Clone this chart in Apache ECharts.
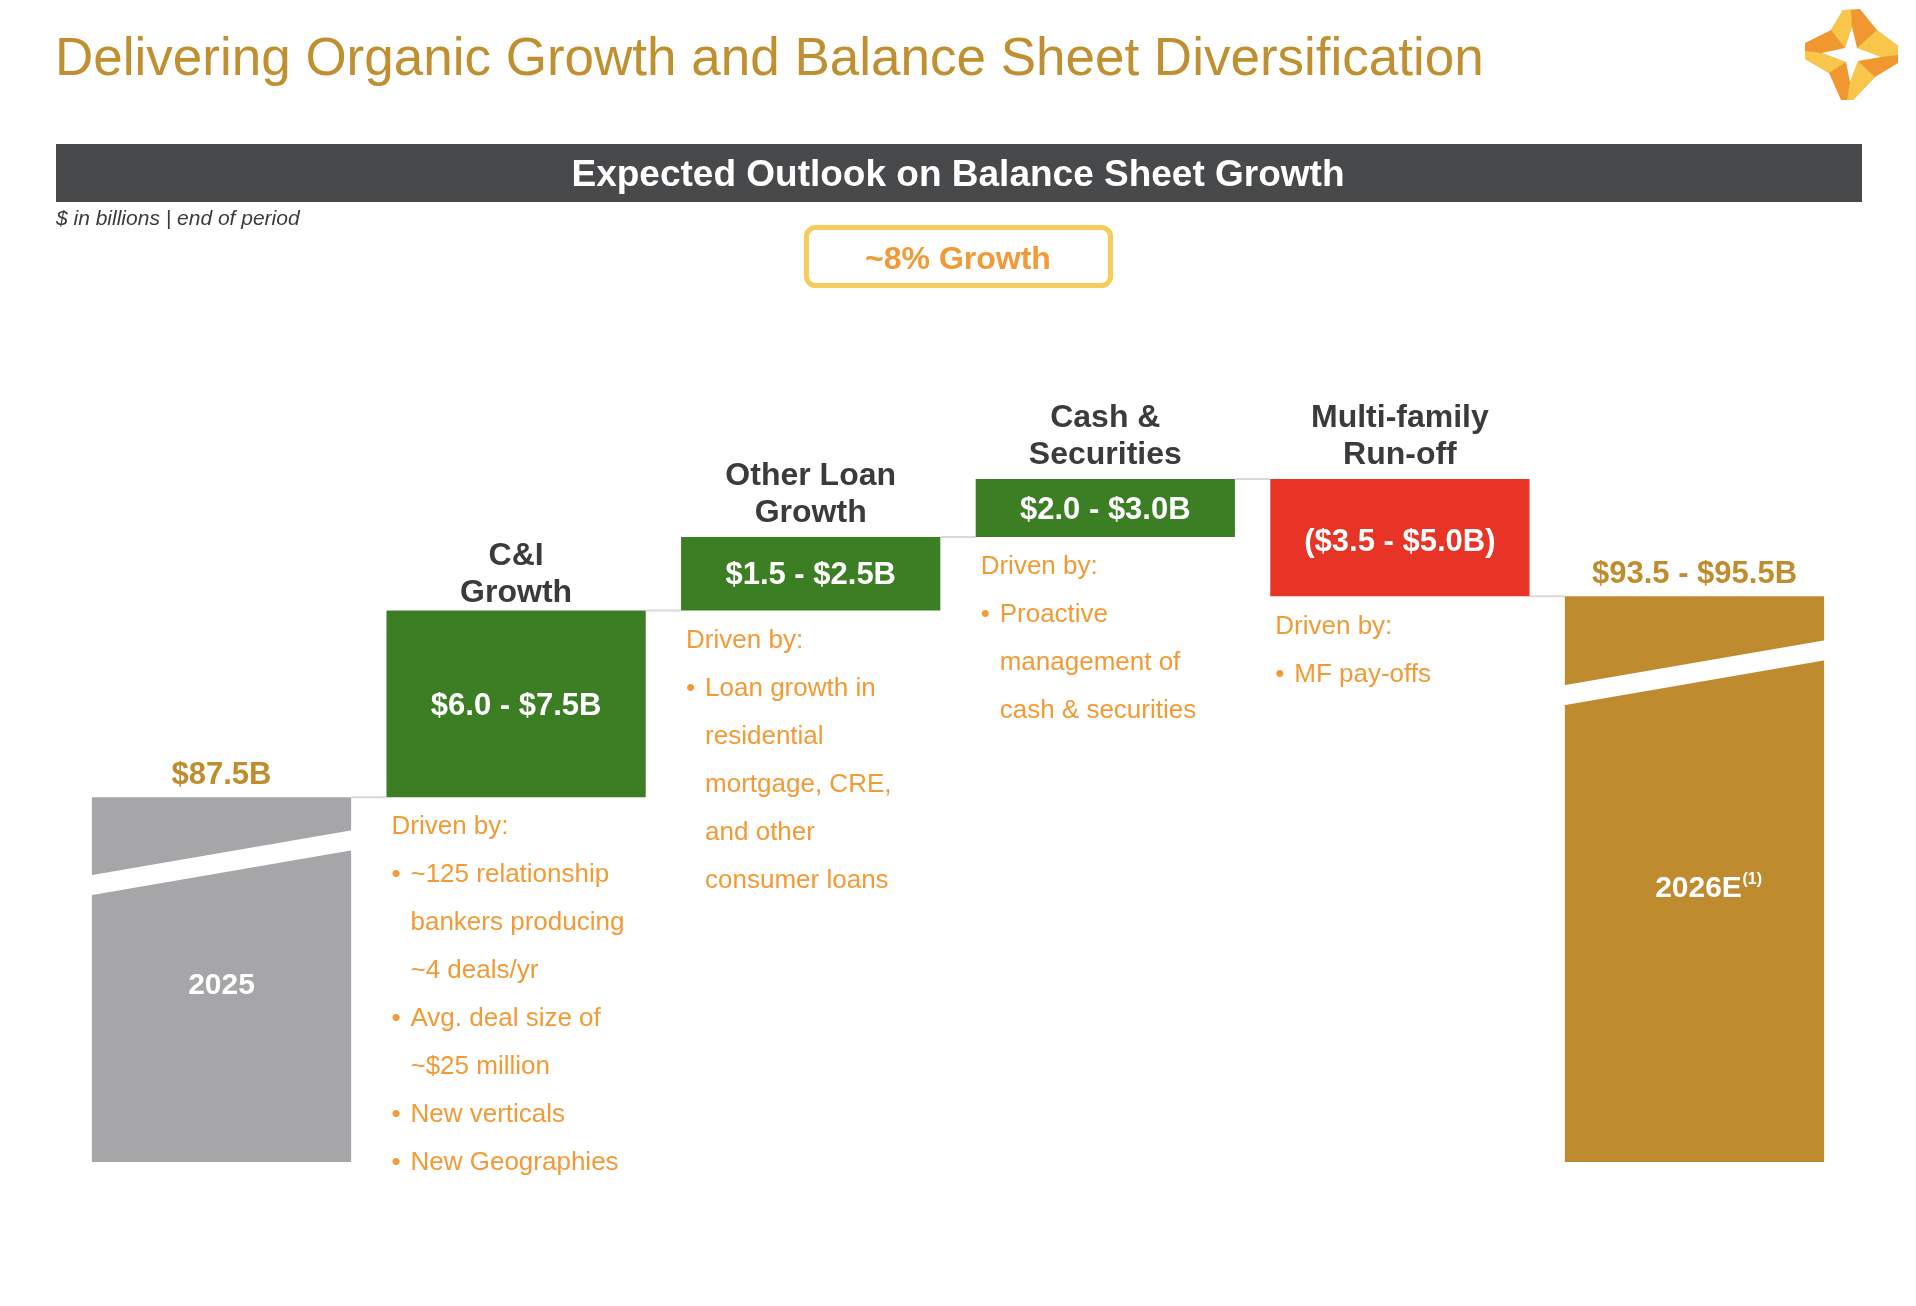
<!DOCTYPE html>
<html>
<head>
<meta charset="utf-8">
<script src="https://cdn.jsdelivr.net/npm/echarts@6/dist/echarts.min.js"></script>
<style>
html,body{margin:0;padding:0;background:#ffffff;}
#chart{width:1916px;height:1306px;}
</style>
</head>
<body>
<div id="chart"></div>
<script>
// ---------------- DATA ----------------
const categories = ['2025', 'C&I\nGrowth', 'Other Loan\nGrowth', 'Cash &\nSecurities', 'Multi-family\nRun-off', '2026E'];
const footnotes = [null, null, null, null, null, '(1)'];
const kinds = ['total', 'increase', 'increase', 'increase', 'decrease', 'total'];
const rangeLow = [87.5, 6.0, 1.5, 2.0, 3.5, 93.5];
const rangeHigh = [null, 7.5, 2.5, 3.0, 5.0, 95.5];
// running balance ($B) reached after each step, as drawn in the (schematic) picture
const levels = [87.5, 94.1, 96.7, 98.75, 94.6, 94.6];
const drivers = [
  [],
  ['Driven by:', '• ~125 relationship', '  bankers producing', '  ~4 deals/yr', '• Avg. deal size of', '  ~$25 million', '• New verticals', '• New Geographies'],
  ['Driven by:', '• Loan growth in', '  residential', '  mortgage, CRE,', '  and other', '  consumer loans'],
  ['Driven by:', '• Proactive', '  management of', '  cash & securities'],
  ['Driven by:', '• MF pay-offs'],
  []
];
const pageTitle = 'Delivering Organic Growth and Balance Sheet Diversification';
const panelTitle = 'Expected Outlook on Balance Sheet Growth';
const unitNote = '$ in billions | end of period';
const growthNote = '~8% Growth';

// ---------------- STYLE / LAYOUT ----------------
const FF = "'Liberation Sans', Arial, Helvetica, sans-serif";
const Y_MIN = 74.6, Y_MAX = 98.75;      // hidden (broken) value axis range
const BAR_FRAC = 0.88;
const barColors = ['#A6A6A8', '#3B7E24', '#3B7E24', '#3B7E24', '#E83426', '#BE8B2F'];
const GOLD = '#BF8D2E', ORANGE = '#F29A35', DARK = '#3B3B3D';
const breakOffsets = {0: [88, 43], 5: [99, 54]}; // slash position below bar top (left, right)
const titleGap = [24, 17, 24, 24, 24, 24];        // gap between bar top and category title
const innerShift = [0, 3, 2, 2, 5, 0];            // small vertical nudge of in-bar labels

const fmt = v => '$' + v.toFixed(1);
const valueLabels = kinds.map((k, i) => {
  if (rangeHigh[i] == null) return fmt(rangeLow[i]) + 'B';
  const s = fmt(rangeLow[i]) + ' - ' + fmt(rangeHigh[i]) + 'B';
  return k === 'decrease' ? '(' + s + ')' : s;
});

const seriesData = categories.map((c, i) => [i, kinds[i] === 'total' ? Y_MIN : levels[i - 1], levels[i]]);

function txt(x, y, text, font, fill, align, vAlign) {
  const a = align || 'center', v = vAlign || 'middle';
  return {
    type: 'text', x: x, y: y,
    style: {text: text, font: font, fill: fill, align: a, verticalAlign: v, textAlign: a, textVerticalAlign: v}
  };
}

function renderItem(params, api) {
  const i = api.value(0);
  const from = api.value(1), to = api.value(2);
  const band = api.size([1, 0])[0];
  const w = band * BAR_FRAC;
  const pTo = api.coord([i, to]);
  const pFrom = api.coord([i, from]);
  const cx = pTo[0];
  const top = Math.min(pTo[1], pFrom[1]);
  const bottom = Math.max(pTo[1], pFrom[1]);
  const left = cx - w / 2, right = cx + w / 2;
  const kind = kinds[i];
  const children = [];

  if (i < categories.length - 1) {
    children.push({
      type: 'line',
      shape: {x1: right, y1: pTo[1], x2: right + (band - w), y2: pTo[1]},
      style: {stroke: '#D9D9D9', lineWidth: 2}
    });
  }
  children.push({
    type: 'rect',
    shape: {x: left, y: top, width: w, height: bottom - top},
    style: {fill: barColors[i]}
  });

  if (kind === 'total') {
    const off = breakOffsets[i];
    if (off) {
      children.push({
        type: 'polygon',
        shape: {points: [
          [left - 1, top + off[0] - 10], [right + 1, top + off[1] - 10],
          [right + 1, top + off[1] + 10], [left - 1, top + off[0] + 10]
        ]},
        style: {fill: '#ffffff'}
      });
    }
    children.push(txt(cx, top - 22, valueLabels[i], 'bold 31px ' + FF, GOLD));
    if (footnotes[i]) {
      const cy = (top + bottom) / 2 + 10;
      children.push(txt(cx + 4, cy, categories[i], 'bold 30px ' + FF, '#ffffff'));
      children.push(txt(cx + 4 + 44, cy - 10, footnotes[i], 'bold 16px ' + FF, '#ffffff', 'left'));
    } else {
      children.push(txt(cx, (top + bottom) / 2 + 6, categories[i], 'bold 30px ' + FF, '#ffffff'));
    }
  } else {
    const lines = categories[i].split('\n');
    lines.forEach((ln, k) => {
      children.push(txt(cx, top - titleGap[i] - (lines.length - 1 - k) * 37, ln, 'bold 32px ' + FF, DARK));
    });
    children.push(txt(cx, (top + bottom) / 2 + innerShift[i], valueLabels[i], 'bold 31px ' + FF, '#ffffff'));
    drivers[i].forEach((ln, k) => {
      const y = bottom + 30 + 48 * k;
      const font = '26px ' + FF;
      if (ln.indexOf('• ') === 0) {
        children.push(txt(left + 5, y, '•', font, ORANGE, 'left'));
        children.push(txt(left + 24, y, ln.slice(2), font, ORANGE, 'left'));
      } else if (ln.indexOf('  ') === 0) {
        children.push(txt(left + 24, y, ln.slice(2), font, ORANGE, 'left'));
      } else {
        children.push(txt(left + 5, y, ln, font, ORANGE, 'left'));
      }
    });
  }
  return {type: 'group', children: children};
}

// ---------------- LOGO (decorative) ----------------
const outer = [[1843,10],[1860,9],[1877,30],[1898,46],[1898,63],[1875,77],[1853,100],[1841,100],[1829,73],[1805,59],[1805,43],[1831,30]];
const inner = [[1852,27],[1857,48],[1881,57],[1858,61],[1850,82],[1846,62],[1822,53],[1845,48]];
const logo = [
  {type: 'polygon', shape: {points: outer}, style: {fill: '#F0982F'}},
  {type: 'polygon', shape: {points: [[1843,10],[1851,10],[1852,27],[1845,48],[1831,30]]}, style: {fill: '#F7C64A'}},
  {type: 'polygon', shape: {points: [[1898,46],[1898,55],[1881,57],[1857,48],[1877,30]]}, style: {fill: '#F7C64A'}},
  {type: 'polygon', shape: {points: [[1853,100],[1847,100],[1850,82],[1858,61],[1875,77]]}, style: {fill: '#F7C64A'}},
  {type: 'polygon', shape: {points: [[1805,59],[1805,51],[1822,53],[1846,62],[1829,73]]}, style: {fill: '#F7C64A'}},
  {type: 'polygon', shape: {points: inner}, style: {fill: '#ffffff'}}
];

function gtext(x, y, text, font, fill, align) {
  const a = align || 'left';
  return {type: 'text', x: x, y: y, style: {text: text, font: font, fill: fill, align: a, verticalAlign: 'middle', textAlign: a, textVerticalAlign: 'middle'}};
}

const chart = echarts.init(document.getElementById('chart'), null, {renderer: 'canvas'});
chart.setOption({
  animation: false,
  backgroundColor: '#ffffff',
  grid: {left: 74.2, right: 74.2, top: 479, bottom: 144},
  xAxis: {type: 'category', data: categories, show: false},
  yAxis: {type: 'value', min: Y_MIN, max: Y_MAX, show: false, splitLine: {show: false}},
  graphic: [
    gtext(55, 60, pageTitle, '53px ' + FF, '#C08F30'),
    {type: 'rect', shape: {x: 56, y: 144, width: 1806, height: 58}, style: {fill: '#48494B'}},
    gtext(958, 176, panelTitle, 'bold 37px ' + FF, '#ffffff', 'center'),
    gtext(56, 219, unitNote, 'italic 21px ' + FF, '#3A3A3A'),
    {type: 'rect', shape: {x: 806.5, y: 227.5, width: 304, height: 58, r: 9}, style: {fill: '#ffffff', stroke: '#F6CD5A', lineWidth: 5}},
    gtext(958, 260, growthNote, 'bold 32px ' + FF, ORANGE, 'center')
  ].concat(logo),
  series: [{
    type: 'custom',
    renderItem: renderItem,
    data: seriesData,
    encode: {x: 0, y: [1, 2]},
    clip: false,
    silent: true
  }]
});
</script>
</body>
</html>
